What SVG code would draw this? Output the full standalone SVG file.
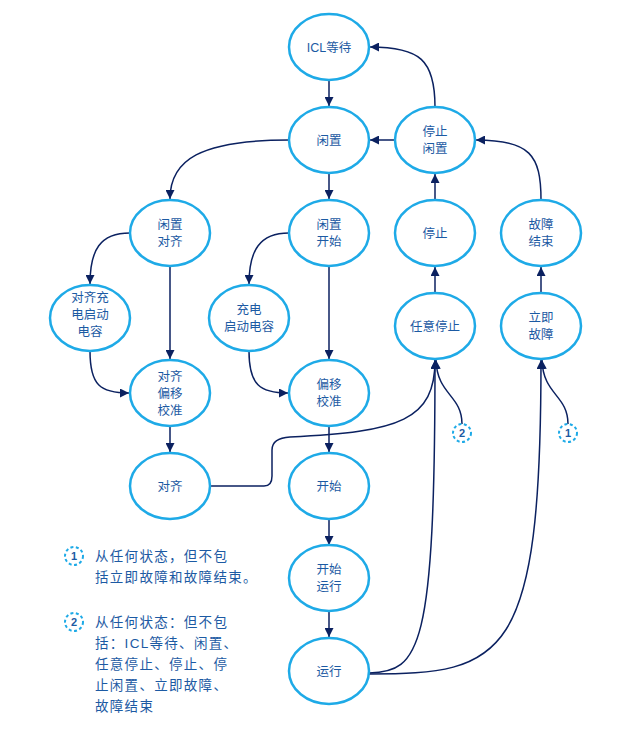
<svg xmlns="http://www.w3.org/2000/svg" width="635" height="733" viewBox="0 0 635 733">
<defs>
<marker id="ar" viewBox="0 0 10 10" refX="10" refY="5" markerWidth="9" markerHeight="9" markerUnits="userSpaceOnUse" orient="auto"><path d="M0,0 L10,5 L0,10 Z" fill="#0b2160"/></marker>
<style>
.n ellipse{fill:#fff;stroke:#1eaae7;stroke-width:2.5}
.n text,.lg text{font-family:"Liberation Sans","Noto Sans CJK SC",sans-serif;font-size:12.5px;fill:#1c5aa3;text-anchor:middle}
.lg text{text-anchor:start;font-size:13.5px;letter-spacing:1.3px}
.c path{fill:none;stroke:#0b2160;stroke-width:1.5;marker-end:url(#ar)}
.d circle{fill:#fff;stroke:#1eaae7;stroke-width:2;stroke-dasharray:3,2.5}
.d text{font-family:"Liberation Sans",sans-serif;font-size:11px;font-weight:bold;fill:#1c5aa3;text-anchor:middle}
</style>
</defs>
<rect width="635" height="733" fill="#fff"/>
<g class="c">
<path d="M329,80 V106"/>
<path d="M435,107 C435,60 420,47 370,47"/>
<path d="M395,140 H370"/>
<path d="M541,200 C541,155 530,140 476,140"/>
<path d="M435,200 V174"/>
<path d="M435,293 V267"/>
<path d="M541,293 V267"/>
<path d="M289,140 C200,140 170,160 170,199"/>
<path d="M329,173 V199"/>
<path d="M130,233 C100,233 90,250 90,284"/>
<path d="M170,266 V359"/>
<path d="M90,351 C90,385 100,393 129,393"/>
<path d="M289,233 C260,233 249,250 249,284"/>
<path d="M329,266 V359"/>
<path d="M249,351 C249,385 260,393 288,393"/>
<path d="M170,426 V452"/>
<path d="M329,426 V452"/>
<path d="M329,519 V545"/>
<path d="M329,611 V637"/>
<path d="M210,486 H264 Q272,486 272,476 V450 Q272,438 290,437 C400,432 435,420 435,360"/>
<path d="M369,673 C420,672 435,650 435,360"/>
<path d="M369,674 C505,674 541,660 541,360"/>
<path d="M462,424 C462,395 437,395 436,360"/>
<path d="M568,424 C568,395 543,395 542,360"/>
</g>
<g class="d">
<circle cx="462" cy="433" r="9"/><text x="462" y="437">2</text>
<circle cx="568" cy="433" r="9"/><text x="568" y="437">1</text>
</g>
<g class="n" id="icl"><ellipse cx="329" cy="47" rx="40" ry="33"/><text x="329" y="52">ICL等待</text></g>
<g class="n" id="idle"><ellipse cx="329" cy="140" rx="40" ry="33"/><text x="329" y="145">闲置</text></g>
<g class="n" id="stopidle"><ellipse cx="435" cy="140" rx="40" ry="33"/><text x="435" y="136">停止</text><text x="435" y="153">闲置</text></g>
<g class="n" id="stop"><ellipse cx="435" cy="233" rx="40" ry="33"/><text x="435" y="238">停止</text></g>
<g class="n" id="faultend"><ellipse cx="541" cy="233" rx="40" ry="33"/><text x="541" y="229">故障</text><text x="541" y="246">结束</text></g>
<g class="n" id="anystop"><ellipse cx="435" cy="326" rx="40" ry="33"/><text x="435" y="331">任意停止</text></g>
<g class="n" id="fault"><ellipse cx="541" cy="326" rx="40" ry="33"/><text x="541" y="322">立即</text><text x="541" y="339">故障</text></g>
<g class="n" id="idlealign"><ellipse cx="170" cy="233" rx="40" ry="33"/><text x="170" y="229">闲置</text><text x="170" y="246">对齐</text></g>
<g class="n" id="idlestart"><ellipse cx="329" cy="233" rx="40" ry="33"/><text x="329" y="229">闲置</text><text x="329" y="246">开始</text></g>
<g class="n" id="aligncharge"><ellipse cx="90" cy="318" rx="40" ry="33"/><text x="90" y="302">对齐充</text><text x="90" y="319">电启动</text><text x="90" y="336">电容</text></g>
<g class="n" id="charge"><ellipse cx="249" cy="318" rx="40" ry="33"/><text x="249" y="314">充电</text><text x="249" y="331">启动电容</text></g>
<g class="n" id="alignoffset"><ellipse cx="170" cy="393" rx="40" ry="33"/><text x="170" y="381">对齐</text><text x="170" y="398">偏移</text><text x="170" y="415">校准</text></g>
<g class="n" id="offset"><ellipse cx="329" cy="393" rx="40" ry="33"/><text x="329" y="389">偏移</text><text x="329" y="406">校准</text></g>
<g class="n" id="align"><ellipse cx="170" cy="486" rx="40" ry="33"/><text x="170" y="491">对齐</text></g>
<g class="n" id="start"><ellipse cx="329" cy="486" rx="40" ry="33"/><text x="329" y="491">开始</text></g>
<g class="n" id="startrun"><ellipse cx="329" cy="578" rx="40" ry="33"/><text x="329" y="574">开始</text><text x="329" y="591">运行</text></g>
<g class="n" id="run"><ellipse cx="329" cy="671" rx="40" ry="33"/><text x="329" y="676">运行</text></g>
<g class="d">
<circle cx="74" cy="556" r="9"/><text x="74" y="560">1</text>
<circle cx="74" cy="622" r="9"/><text x="74" y="626">2</text>
</g>
<g class="lg">
<text x="95" y="561">从任何状态，但不包</text>
<text x="95" y="582">括立即故障和故障结束。</text>
<text x="95" y="627">从任何状态：但不包</text>
<text x="95" y="648">括：ICL等待、闲置、</text>
<text x="95" y="669">任意停止、停止、停</text>
<text x="95" y="690">止闲置、立即故障、</text>
<text x="95" y="711">故障结束</text>
</g>
</svg>
